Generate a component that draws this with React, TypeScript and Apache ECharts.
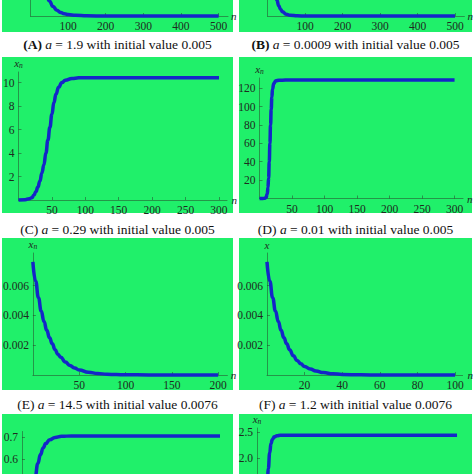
import * as echarts from 'echarts'
import { useEffect, useRef } from 'react'

const GREEN = '#20f06a'
const CURVE = '#1426c8'
const AXIS = 'rgba(40,60,40,0.5)'
const LABEL = '#1f2a1f'
const SERIF = '"Liberation Serif", "DejaVu Serif", serif'

// the chart canvas reaches above and below the window so that the cut-off panels keep their size
const OFF = 160

// (A) a = 1.9, initial value 0.005 (only the tail is visible)
const nA = [0, 10, 20, 30, 40, 50, 60, 70, 80, 90, 100, 120, 150, 200, 300, 400, 500]
const xA = [0.0076, 0.0052, 0.0035, 0.0023, 0.0015, 0.00095, 0.0006, 0.00037, 0.00023, 0.00014, 0.00009, 0.00004, 0.00001, 0, 0, 0, 0]

// (B) a = 0.0009
const nB = [0, 5, 10, 15, 20, 25, 30, 35, 40, 50, 60, 80, 100, 200, 300, 400, 500]
const xB = [0.0076, 0.0052, 0.0035, 0.0023, 0.0015, 0.001, 0.00065, 0.00042, 0.00027, 0.00011, 0.00005, 0.00001, 0, 0, 0, 0, 0]

// (C) a = 0.29
const nC = [0, 10, 16, 20, 23, 26, 29, 32, 35, 38, 41, 44, 47, 50, 53, 56, 60, 65, 70, 80, 90, 100, 150, 200, 250, 300]
const xC = [0.005, 0.03, 0.1, 0.2, 0.4, 0.7, 1.1, 1.6, 2.3, 3.0, 4.0, 5.1, 6.2, 7.3, 8.3, 9.0, 9.6, 10.0, 10.2, 10.35, 10.4, 10.4, 10.4, 10.4, 10.4, 10.4]

// (D) a = 0.01
const nD = [0, 5, 8, 10, 12, 13, 14, 15, 16, 17, 18, 19, 20, 22, 25, 30, 40, 100, 200, 300]
const xD = [0.005, 0.05, 0.3, 1.2, 5, 12, 22, 40, 60, 80, 97, 110, 119, 125, 128, 128.6, 128.7, 128.7, 128.7, 128.7]

// (E) a = 14.5, initial value 0.0076
const nE = [0, 3, 6, 9, 12, 15, 18, 21, 24, 27, 30, 35, 40, 45, 50, 60, 70, 80, 90, 100, 125, 150, 200]
const xE = [0.0076, 0.0063, 0.0052, 0.0043, 0.0036, 0.003, 0.0025, 0.0021, 0.0017, 0.0014, 0.0012, 0.00087, 0.00064, 0.00047, 0.00034, 0.00018, 0.0001, 0.00005, 0.00003, 0.00002, 0, 0, 0]

// (F) a = 1.2
const nF = [0, 1.5, 3, 4.5, 6, 7.5, 9, 10.5, 12, 14, 16, 18, 20, 23, 26, 30, 35, 40, 50, 60, 80, 100]
const xF = [0.0076, 0.0063, 0.0052, 0.0043, 0.0036, 0.003, 0.0025, 0.0021, 0.0017, 0.0013, 0.00098, 0.00075, 0.00057, 0.0004, 0.00027, 0.00016, 0.00008, 0.00004, 0.00001, 0, 0, 0]

// (G) bottom-left, only the top is visible
const nG = [0, 5, 10, 15, 20, 24, 28, 32, 36, 42, 50, 60, 75, 100, 200, 300]
const xG = [0.005, 0.06, 0.2, 0.38, 0.52, 0.58, 0.62, 0.65, 0.67, 0.688, 0.698, 0.703, 0.705, 0.705, 0.705, 0.705]

// (H) bottom-right
const nH = [0, 5, 10, 13, 15, 17, 19, 21, 23, 26, 30, 35, 50, 100, 200, 300]
const xH = [0.005, 0.05, 0.3, 0.8, 1.3, 1.8, 2.1, 2.28, 2.36, 2.41, 2.43, 2.44, 2.44, 2.44, 2.44, 2.44]

const ticksX500 = [100, 200, 300, 400, 500]
const ticksX300 = [50, 100, 150, 200, 250, 300]
const ticksX200 = [50, 100, 150, 200]
const ticksX100 = [20, 40, 60, 80, 100]
const ticksYSmall = [0.002, 0.004, 0.006]
const ticksYC = [2, 4, 6, 8, 10]
const ticksYD = [20, 40, 60, 80, 100, 120]
// G and H: only the ticks inside the window
const ticksYG = [0.6, 0.7]
const ticksYH = [2.0, 2.5]

const captionTags = ['A', 'B', 'C', 'D', 'E', 'F']
const captionA = ['1.9', '0.0009', '0.29', '0.01', '14.5', '1.2']
const captionInit = ['0.005', '0.005', '0.005', '0.005', '0.0076', '0.0076']

type Panel = {
  n: number[]
  x: number[]
  xMax: number
  yMax: number
  xTicks: number[]
  yTicks: number[]
  yName: string
  showX: boolean // x labels lie inside the window
  showY: boolean // y labels lie inside the window
  yFmt?: (v: number) => string
}

const panels: Panel[] = [
  { n: nA, x: xA, xMax: 525, yMax: 0.008, xTicks: ticksX500, yTicks: ticksYSmall, yName: 'xn', showX: true, showY: false },
  { n: nB, x: xB, xMax: 525, yMax: 0.008, xTicks: ticksX500, yTicks: ticksYSmall, yName: 'xn', showX: true, showY: false },
  { n: nC, x: xC, xMax: 312, yMax: 10.9, xTicks: ticksX300, yTicks: ticksYC, yName: 'xn', showX: true, showY: true },
  { n: nD, x: xD, xMax: 313, yMax: 131, xTicks: ticksX300, yTicks: ticksYD, yName: 'xn', showX: true, showY: true },
  { n: nE, x: xE, xMax: 210, yMax: 0.0082, xTicks: ticksX200, yTicks: ticksYSmall, yName: 'xn', showX: true, showY: true },
  { n: nF, x: xF, xMax: 104, yMax: 0.0082, xTicks: ticksX100, yTicks: ticksYSmall, yName: 'x', showX: true, showY: true },
  { n: nG, x: xG, xMax: 313, yMax: 0.725, xTicks: ticksX300, yTicks: ticksYG, yName: '', showX: false, showY: true },
  { n: nH, x: xH, xMax: 313, yMax: 2.58, xTicks: ticksX300, yTicks: ticksYH, yName: 'xn', showX: false, showY: true, yFmt: (v) => v.toFixed(1) },
]

// plot boxes in window pixels: y axis at left, x axis at bottom
const boxes = [
  { left: 30.5, top: -110, width: 197.5, height: 126 },
  { left: 267.5, top: -110, width: 197.5, height: 126 },
  { left: 15, top: 72, width: 212, height: 128 },
  { left: 259.5, top: 78, width: 203.5, height: 120.5 },
  { left: 30, top: 253, width: 197.4, height: 122 },
  { left: 267, top: 253, width: 197.6, height: 122 },
  { left: 22, top: 431.5, width: 206.6, height: 159.5 },
  { left: 257, top: 428, width: 208.7, height: 134.2 },
]

const panelRects = [
  { x: 2, y: -140, w: 231, h: 172 },
  { x: 239, y: -140, w: 233, h: 172 },
  { x: 2, y: 57, w: 231, h: 156 },
  { x: 239, y: 57, w: 233, h: 156 },
  { x: 2, y: 238, w: 231, h: 152 },
  { x: 239, y: 238, w: 233, h: 152 },
  { x: 2, y: 414, w: 231, h: 200 },
  { x: 239, y: 414, w: 233, h: 200 },
]

const captionPos = [
  { x: 117.5, y: 44.5 },
  { x: 355.5, y: 44.5 },
  { x: 117.5, y: 229.5 },
  { x: 355.5, y: 229.5 },
  { x: 117.5, y: 404 },
  { x: 355.5, y: 404 },
]

const nameRich = {
  i: { fontFamily: SERIF, fontStyle: 'italic' as const, fontSize: 11, color: LABEL },
  s: { fontFamily: SERIF, fontStyle: 'italic' as const, fontSize: 7.5, color: LABEL, verticalAlign: 'bottom' as const, padding: [5, 0, 0, 0] },
}

function yNameText(name: string) {
  if (!name) return ''
  if (name === 'xn') return '{i|x}{s|n}'
  return `{i|${name}}`
}

export default function App() {
  const ref = useRef<HTMLDivElement>(null)

  useEffect(() => {
    if (!ref.current) return
    const chart = echarts.init(ref.current, undefined, { renderer: 'svg' })

    const tickLabel = {
      fontFamily: SERIF,
      fontSize: 11.5,
      color: LABEL,
    }

    chart.setOption({
      animation: false,
      backgroundColor: '#ffffff',
      grid: boxes.map((b) => ({
        left: b.left,
        top: b.top + OFF,
        width: b.width,
        height: b.height,
        containLabel: false,
      })),
      xAxis: panels.map((p, i) => ({
        type: 'value',
        gridIndex: i,
        min: 0,
        max: p.xMax,
        name: p.showX ? 'n' : '',
        nameLocation: 'end',
        nameGap: 2,
        nameTextStyle: {
          fontFamily: SERIF,
          fontStyle: 'italic',
          fontSize: 11,
          color: LABEL,
          padding: [0, 0, 12, 0],
        },
        axisLine: { show: true, lineStyle: { color: AXIS, width: 1 } },
        axisTick: { show: true, inside: true, length: 3, customValues: p.xTicks, lineStyle: { color: AXIS } },
        axisLabel: { ...tickLabel, show: p.showX, margin: 4, customValues: p.xTicks },
        splitLine: { show: false },
      })),
      yAxis: panels.map((p, i) => ({
        type: 'value',
        gridIndex: i,
        min: 0,
        max: p.yMax,
        name: p.showY ? yNameText(p.yName) : '',
        nameLocation: 'end',
        nameGap: 3,
        nameTextStyle: { rich: nameRich },
        axisLine: { show: true, lineStyle: { color: AXIS, width: 1 } },
        axisTick: { show: true, inside: true, length: 3, customValues: p.yTicks, lineStyle: { color: AXIS } },
        axisLabel: {
          ...tickLabel,
          show: p.showY,
          margin: 4,
          customValues: p.yTicks,
          formatter: p.yFmt ? (v: number) => p.yFmt!(v) : undefined,
        },
        splitLine: { show: false },
      })),
      series: panels.map((p, i) => ({
        type: 'line',
        xAxisIndex: i,
        yAxisIndex: i,
        data: p.n.map((n, k) => [n, p.x[k]]),
        showSymbol: false,
        smooth: 0.5,
        smoothMonotone: 'x',
        clip: false,
        lineStyle: { color: CURVE, width: 3.5 },
        z: 3,
      })),
      graphic: {
        elements: [
          ...panelRects.map((r) => ({
            type: 'rect',
            z: -10,
            silent: true,
            shape: { x: r.x, y: r.y + OFF, width: r.w, height: r.h },
            style: { fill: GREEN },
          })),
          ...captionTags.map((tag, i) => ({
            type: 'text',
            z: 5,
            x: captionPos[i].x,
            y: captionPos[i].y + OFF,
            style: {
              text: `{t|(${tag})} {a|a} {r|= ${captionA[i]} with initial value ${captionInit[i]}}`,
              align: 'center',
              verticalAlign: 'middle',
              rich: {
                t: { fontFamily: SERIF, fontSize: 13.5, fontWeight: i < 2 ? 'bold' : 'normal', fill: '#111' },
                a: { fontFamily: SERIF, fontSize: 13.5, fontStyle: 'italic', fill: '#111' },
                r: { fontFamily: SERIF, fontSize: 13.5, fill: '#111' },
              },
            },
          })),
        ],
      },
    })

    return () => {
      chart.dispose()
    }
  }, [])

  return (
    <div
      ref={ref}
      style={{
        position: 'fixed',
        left: 0,
        top: -OFF,
        width: 474,
        height: 474 + 2 * OFF,
        background: '#ffffff',
      }}
    />
  )
}
